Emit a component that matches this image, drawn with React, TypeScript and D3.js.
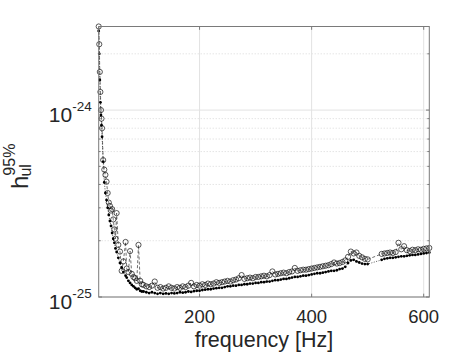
import React from 'react';
import * as d3 from 'd3';

// frequency [Hz]
const freqs = [
  20, 21, 22, 23, 24, 25, 26, 28, 30, 32,
  34, 36, 38, 40, 42, 44, 46, 48, 50, 52,
  55, 58, 61, 64, 68, 70, 73, 76, 79, 82,
  85, 88, 91, 94, 97, 100, 105, 110, 115, 120,
  125, 130, 135, 140, 145, 150, 155, 160, 165, 170,
  175, 180, 185, 190, 195, 200, 205, 210, 215, 220,
  225, 230, 235, 240, 245, 250, 255, 260, 265, 270,
  275, 280, 285, 290, 295, 300, 305, 310, 315, 320,
  325, 330, 335, 340, 345, 350, 355, 360, 365, 370,
  375, 380, 385, 390, 395, 400, 405, 410, 415, 420,
  425, 430, 435, 440, 445, 450, 455, 460, 465, 470,
  475, 480, 485, 490, 495, 500, 525, 530, 535, 540,
  545, 550, 555, 560, 565, 570, 575, 580, 585, 590,
  595, 600, 605, 610,
];

// upper limit, open circles (units of 1e-25)
const circleSeries = [
  28, 22.5, 16, 12.5, 10, 9.0, 8.0, 5.4, 4.8, 4.5,
  4.14, 3.6, 3.2, 3.07, 2.9, 2.95, 2.6, 2.3, 2.05, 2.81,
  1.9, 1.75, 1.38, 1.55, 1.97, 1.42, 1.36, 1.76, 1.33, 1.28,
  1.26, 1.22, 1.9, 1.22, 1.17, 1.16, 1.14, 1.13, 1.15, 1.21,
  1.12, 1.13, 1.11, 1.12, 1.14, 1.12, 1.11, 1.13, 1.12, 1.14,
  1.13, 1.15, 1.19, 1.14, 1.16, 1.15, 1.17, 1.16, 1.18, 1.17,
  1.18, 1.2, 1.19, 1.2, 1.21, 1.22, 1.21, 1.23, 1.24, 1.26,
  1.31, 1.25, 1.26, 1.27, 1.26, 1.28, 1.28, 1.29, 1.3, 1.29,
  1.31, 1.37, 1.32, 1.33, 1.34, 1.35, 1.34, 1.36, 1.37, 1.43,
  1.38, 1.39, 1.4, 1.4, 1.41, 1.42, 1.43, 1.44, 1.45, 1.46,
  1.47, 1.48, 1.5, 1.53, 1.51, 1.52, 1.54, 1.57, 1.64, 1.75,
  1.71, 1.73, 1.66, 1.63, 1.6, 1.59, 1.7, 1.71, 1.72, 1.73,
  1.72, 1.74, 1.95, 1.8, 1.87, 1.78, 1.76, 1.79, 1.78, 1.8,
  1.79, 1.81, 1.82, 1.83,
];

// upper limit, small dots (units of 1e-25)
const dotSeries = [
  26.5, 20, 14.5, 11, 9.4, 8.3, 7.2, 5.3, 4.1, 3.6,
  3.3, 3.0, 2.75, 2.55, 2.4, 2.2, 2.05, 1.95, 1.82, 1.74,
  1.62, 1.52, 1.44, 1.36, 1.3, 1.27, 1.22, 1.19, 1.16, 1.14,
  1.12, 1.1, 1.11, 1.08, 1.07, 1.07, 1.06, 1.05, 1.06, 1.05,
  1.04, 1.05, 1.04, 1.045, 1.04, 1.05, 1.045, 1.05, 1.06, 1.055,
  1.06, 1.07, 1.065, 1.075, 1.08, 1.08, 1.09, 1.095, 1.1, 1.1,
  1.11, 1.115, 1.12, 1.12, 1.13, 1.14, 1.14, 1.15, 1.15, 1.16,
  1.16, 1.17, 1.17, 1.18, 1.18, 1.19, 1.19, 1.2, 1.2, 1.21,
  1.21, 1.22, 1.23, 1.23, 1.24, 1.25, 1.25, 1.26, 1.27, 1.28,
  1.28, 1.29, 1.3, 1.3, 1.31, 1.32, 1.33, 1.34, 1.34, 1.35,
  1.36, 1.37, 1.38, 1.38, 1.39, 1.41, 1.42, 1.45, 1.52, 1.57,
  1.58, 1.55, 1.53, 1.51, 1.5, 1.5, 1.58, 1.6, 1.61, 1.62,
  1.62, 1.63, 1.64, 1.65, 1.65, 1.66, 1.67, 1.68, 1.68, 1.69,
  1.7, 1.71, 1.72, 1.73,
];

const xTicks = [200, 400, 600];
const xTickLabels = ['200', '400', '600'];
const yMajorTicks = [1, 10];
const yMajorExponents = ['-25', '-24'];
const yMinorTicks = [2, 3, 4, 5, 6, 7, 8, 9, 20];

const W = 474;
const H = 355;
const L = 98.7;
const R = 429.3;
const T = 26.5;
const B = 297;
const FONT = '"Liberation Sans", Arial, Helvetica, sans-serif';
const TXT = '#262626';
const AX = '#7a7a7a';

export default function App() {
  const x = d3.scaleLinear().domain([20, 610]).range([L, R]);
  const y = d3.scaleLog().domain([1, 28]).range([B, T]);
  const lineA = d3
    .line<number>()
    .x((_, i) => x(freqs[i]))
    .y((d) => y(d));
  const lineB = d3
    .line<number>()
    .x((_, i) => x(freqs[i]))
    .y((d) => y(d));

  return (
    <svg
      width={W}
      height={H}
      style={{ position: 'absolute', left: 0, top: 0, background: '#fff' }}
      fontFamily={FONT}
    >
      <rect x={0} y={0} width={W} height={H} fill="#fff" />
      {/* grid */}
      {yMinorTicks.map((t) => (
        <line key={'mg' + t} x1={L} x2={R} y1={y(t)} y2={y(t)} stroke="#cfcfcf" strokeWidth={0.8} strokeDasharray="1,2" />
      ))}
      {yMajorTicks.map((t) => (
        <line key={'yg' + t} x1={L} x2={R} y1={y(t)} y2={y(t)} stroke="#e2e2e2" strokeWidth={1} />
      ))}
      {xTicks.map((t) => (
        <line key={'xg' + t} x1={x(t)} x2={x(t)} y1={T} y2={B} stroke="#e2e2e2" strokeWidth={1} />
      ))}

      {/* series */}
      <path d={lineA(circleSeries) || ''} fill="none" stroke="#333" strokeWidth={0.7} strokeDasharray="3,2" />
      {circleSeries.map((v, i) => (
        <circle key={'a' + i} cx={x(freqs[i])} cy={y(v)} r={2.6} fill="none" stroke="#111" strokeWidth={0.7} />
      ))}
      <path d={lineB(dotSeries) || ''} fill="none" stroke="#111" strokeWidth={0.7} strokeDasharray="1,1.5" />
      {dotSeries.map((v, i) => (
        <circle key={'b' + i} cx={x(freqs[i])} cy={y(v)} r={1.4} fill="#000" />
      ))}

      {/* box */}
      <rect x={L} y={T} width={R - L} height={B - T} fill="none" stroke={AX} strokeWidth={1} />
      {/* ticks */}
      {xTicks.map((t) => (
        <g key={'xt' + t}>
          <line x1={x(t)} x2={x(t)} y1={B} y2={B - 3.3} stroke={AX} />
          <line x1={x(t)} x2={x(t)} y1={T} y2={T + 3.3} stroke={AX} />
        </g>
      ))}
      {yMajorTicks.map((t) => (
        <g key={'yt' + t}>
          <line x1={L} x2={L + 3.3} y1={y(t)} y2={y(t)} stroke={AX} />
          <line x1={R} x2={R - 3.3} y1={y(t)} y2={y(t)} stroke={AX} />
        </g>
      ))}
      {yMinorTicks.map((t) => (
        <g key={'ym' + t}>
          <line x1={L} x2={L + 2} y1={y(t)} y2={y(t)} stroke={AX} />
          <line x1={R} x2={R - 2} y1={y(t)} y2={y(t)} stroke={AX} />
        </g>
      ))}

      {/* tick labels */}
      {xTicks.map((t, i) => (
        <text key={'xl' + t} x={x(t)} y={323.3} textAnchor="middle" fontSize={18.5} fill={TXT}>
          {xTickLabels[i]}
        </text>
      ))}
      {yMajorTicks.map((t, i) => (
        <text key={'yl' + t} x={L - 7} y={y(t) + 11.5} textAnchor="end" fill={TXT}>
          <tspan fontSize={21}>10</tspan>
          <tspan fontSize={13.5} dy={-11}>{yMajorExponents[i]}</tspan>
        </text>
      ))}

      {/* axis labels */}
      <text x={(L + R) / 2} y={347} textAnchor="middle" fontSize={21.5} fill={TXT}>
        frequency [Hz]
      </text>
      <g transform="translate(28,189) rotate(-90)">
        <text x={0} y={0} fill={TXT} fontSize={24}>
          <tspan>h</tspan>
          <tspan fontSize={16} dy={-13}>95%</tspan>
          <tspan fontSize={16} dx={-33} dy={16}>ul</tspan>
        </text>
      </g>
    </svg>
  );
}
